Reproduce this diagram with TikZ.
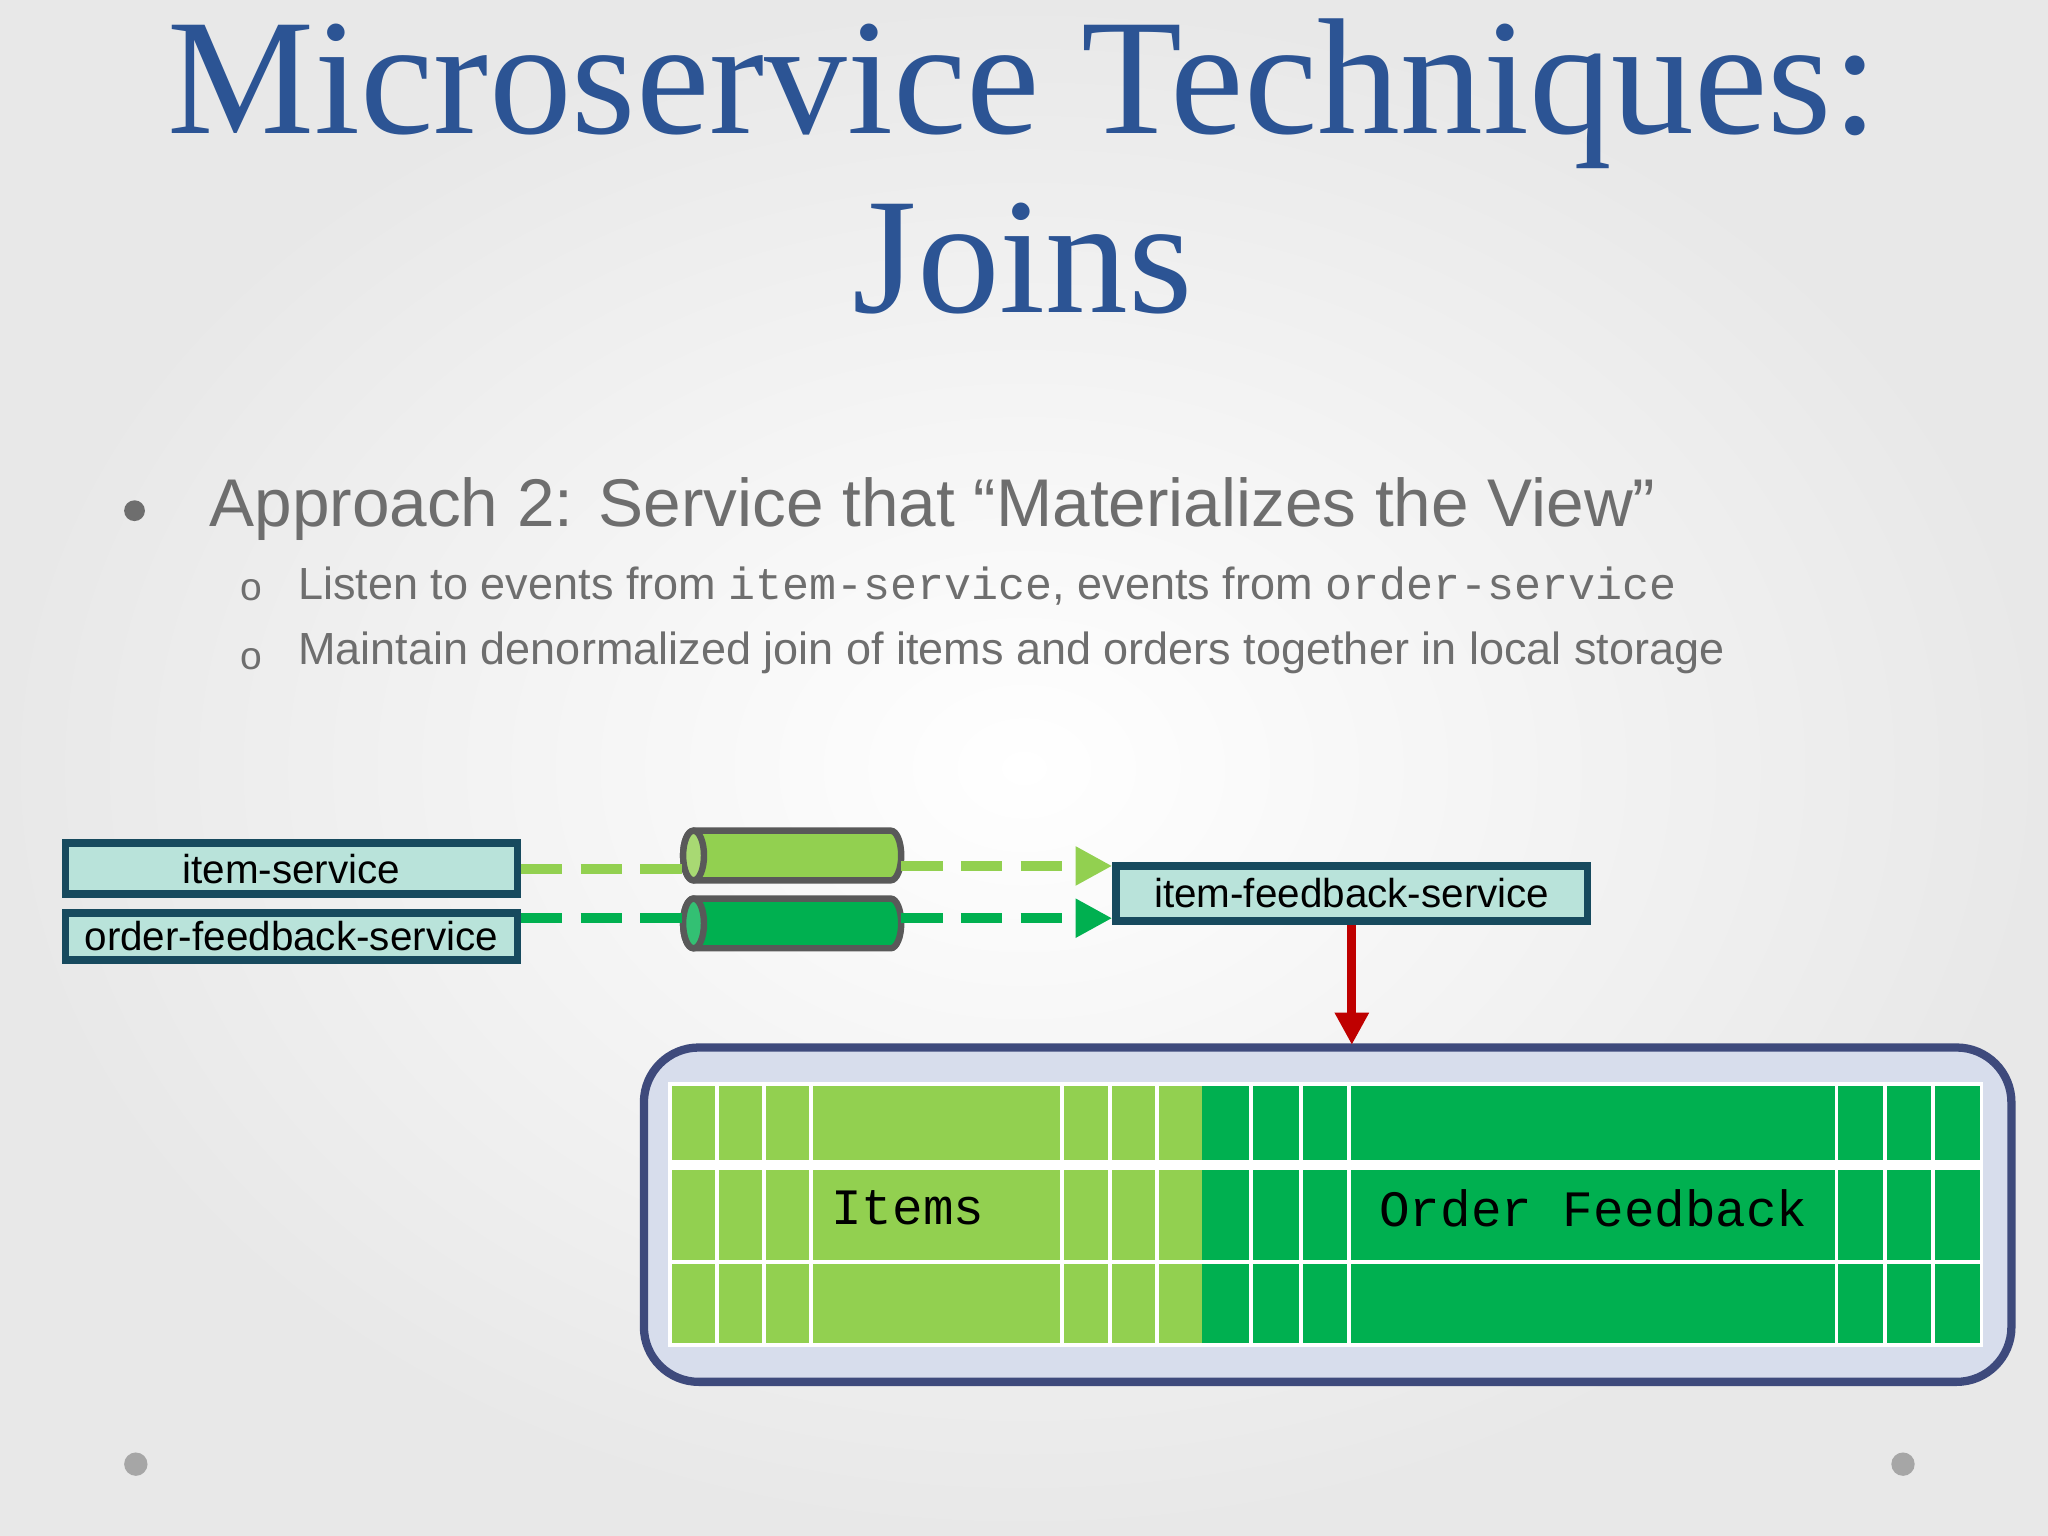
\documentclass[tikz,border=0pt]{standalone}
\usepackage{fontspec}
\setmainfont{Liberation Serif}
\setsansfont{Liberation Sans}
\setmonofont{Liberation Mono}
\usetikzlibrary{arrows.meta}
\definecolor{titleblue}{HTML}{2C5494}
\definecolor{txtgray}{HTML}{6E6E6E}
\definecolor{boxfill}{HTML}{B9E3DA}
\definecolor{boxline}{HTML}{174A5E}
\definecolor{lgreen}{HTML}{92D050}
\definecolor{dgreen}{HTML}{00B050}
\definecolor{panel}{HTML}{D7DDEC}
\definecolor{panelline}{HTML}{3E4A7C}
\tikzset{
 svc/.style={draw=boxline,line width=1.6pt,fill=boxfill,font=\sffamily\fontsize{8.8}{9.5}\selectfont,inner sep=0pt},
 cylb/.style={draw=black!65,line width=1.4pt},
 dashl/.style={line width=2.2pt,dash pattern=on 9pt off 4pt},
 grid/.style={white,line width=0.8pt}
}
\begin{document}
\begin{tikzpicture}[x=0.01cm,y=-0.01cm]
\shade[inner color=white,outer color=gray!18] (0,0) rectangle (1568,1176);
\useasboundingbox (0,0) rectangle (1568,1176);
% title
\node[text=titleblue,font=\fontsize{36}{38}\selectfont] (t1) at (783,72) {Microservice Techniques:};
\node[text=titleblue,font=\fontsize{36}{38}\selectfont] (t2) at (783,198) {Joins};
% bullets
\node[circle,fill=txtgray,inner sep=1.6pt] (b0) at (103,391) {};
\node[anchor=west,text=txtgray,font=\sffamily\fontsize{14.7}{16}\selectfont] (l1) at (148,390) {Approach 2: Service that “Materializes the View”};
\node[anchor=west,text=txtgray,font=\sffamily\fontsize{8.5}{10}\selectfont] (c1) at (172,452) {o};
\node[anchor=west,text=txtgray,font=\sffamily\fontsize{9.8}{11}\selectfont] (l2) at (216,449) {Listen to events from {\ttfamily item-service}, events from {\ttfamily order-service}};
\node[anchor=west,text=txtgray,font=\sffamily\fontsize{8.5}{10}\selectfont] (c2) at (172,505) {o};
\node[anchor=west,text=txtgray,font=\sffamily\fontsize{9.8}{11}\selectfont] (l3) at (216,500) {Maintain denormalized join of items and orders together in local storage};
% services
\node[svc,minimum width=3.46cm,minimum height=0.39cm] (is) at (223,665) {item-service};
\node[svc,minimum width=3.46cm,minimum height=0.36cm] (ofs) at (223,717) {order-feedback-service};
\node[svc,minimum width=3.61cm,minimum height=0.42cm] (ifs) at (1035,684) {item-feedback-service};
% cylinders
\foreach \c/\yc/\nm in {lgreen/655/q1,dgreen/707/q2}{
  \filldraw[cylb,fill=\c] (531,\yc-19) -- (682,\yc-19) arc[x radius=8,y radius=19,start angle=-90,end angle=90] -- (531,\yc+19) arc[x radius=8,y radius=19,start angle=90,end angle=270] -- cycle;
  \filldraw[cylb,fill=\c!80!white] (531,\yc) ellipse[x radius=8,y radius=19];
  \coordinate (\nm w) at (523,\yc);
  \coordinate (\nm e) at (690,\yc);
}
% dashed
\draw[dashl,lgreen] (is.east|-0,665) -- (q1w|-0,665);
\draw[dashl,lgreen,-{Triangle[length=8pt,width=8pt]}] (q1e|-0,663) -- (ifs.west|-0,663);
\draw[dashl,dgreen] (ofs.east|-0,703) -- (q2w|-0,703);
\draw[dashl,dgreen,-{Triangle[length=8pt,width=8pt]}] (q2e|-0,703) -- (ifs.west|-0,703);
% panel
\draw[fill=panel,draw=panelline,line width=1.8pt,rounded corners=0.42cm] (493,802) rectangle (1540,1058);
\coordinate (ptop) at (1035,800);
\draw[red!75!black,line width=2pt,-{Triangle[length=7pt,width=7pt]}] (ifs.south) -- (ptop);
% table
\fill[lgreen] (513,830) rectangle (920,1030);
\fill[dgreen] (920,830) rectangle (1517,1030);
\draw[white,line width=0.8pt] (513,830) rectangle (1517,1030);
\draw[white,line width=2pt] (513,892) -- (1517,892);
\draw[grid] (513,966) -- (1517,966);
\foreach \x in {549,585,621,813,850,886,958,996,1033,1406,1443,1480}
  \draw[grid] (\x,830) -- (\x,1030);
\node[font=\ttfamily\fontsize{11.1}{12}\selectfont] (it) at (695,925) {Items};
\node[font=\ttfamily\fontsize{11.1}{12}\selectfont] (of) at (1220,925) {Order Feedback};
% footer dots
\node[circle,fill=gray!70,inner sep=1.8pt] (d1) at (104,1121) {};
\node[circle,fill=gray!70,inner sep=1.8pt] (d2) at (1457,1121) {};
\end{tikzpicture}
\end{document}
